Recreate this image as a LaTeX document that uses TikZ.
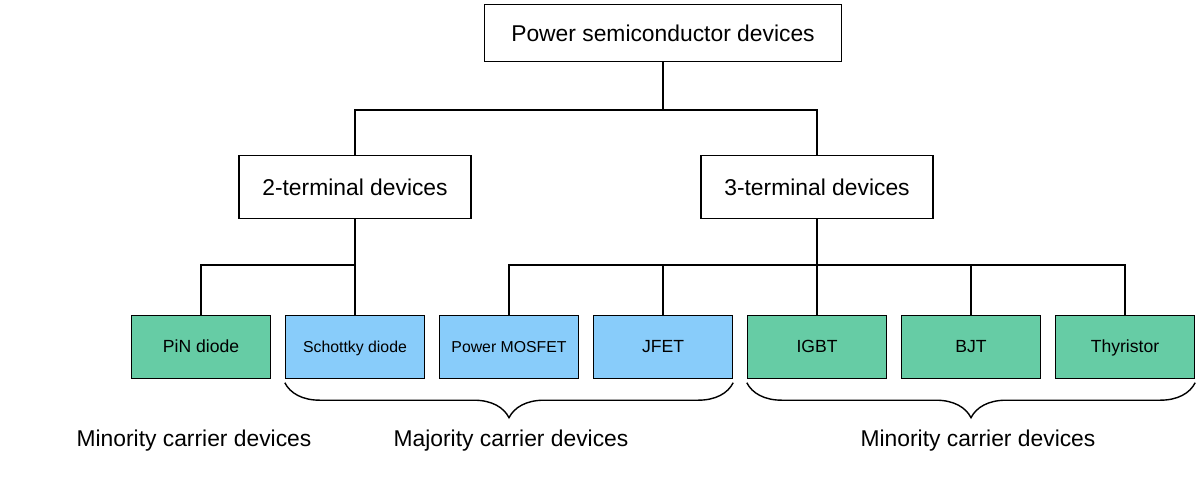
\documentclass[tikz,border=0pt]{standalone}
\usepackage{fontspec}
\setmainfont{Liberation Sans}
\usetikzlibrary{positioning,decorations.pathreplacing}
\definecolor{minority}{RGB}{102,204,165}
\definecolor{majority}{RGB}{136,204,250}
\tikzset{
  head/.style={draw, thick, minimum width=4.64cm, minimum height=1.26cm, font=\fontsize{13}{15}\selectfont},
  dev/.style={draw, thick, minimum width=2.78cm, minimum height=1.26cm, text height=1.5ex, text depth=0.3ex, font=\fontsize{10}{12}\selectfont},
  mino/.style={dev, fill=minority},
  majo/.style={dev, fill=majority},
  group/.style={font=\fontsize{13}{15}\selectfont},
  curly/.style={decorate, decoration={brace, mirror, amplitude=0.7cm}}
}
\begin{document}
\begin{tikzpicture}[x=0.02cm, y=-0.02cm, thick]
  \useasboundingbox (0,0) rectangle (1200,486);

  % Top level
  \node[head, minimum width=7.14cm, minimum height=1.14cm] (root) at (663,33) {Power semiconductor devices};
  \node[head] (two) at (355,187) {2-terminal devices};
  \node[head] (three) at (817,187) {3-terminal devices};

  % Devices
  \node[mino] (pin) at (201,347) {PiN diode};
  \node[majo, font=\fontsize{9}{11}\selectfont] (schottky) at (355,347) {Schottky diode};
  \node[majo, font=\fontsize{9}{11}\selectfont] (mosfet) at (509,347) {Power MOSFET};
  \node[majo] (jfet) at (663,347) {JFET};
  \node[mino] (igbt) at (817,347) {IGBT};
  \node[mino] (bjt) at (971,347) {BJT};
  \node[mino] (thy) at (1125,347) {Thyristor};

  % Tree connectors
  \coordinate (r) at (663,110);
  \draw (root.south) -- (r);
  \draw (two.north) |- (r) -| (three.north);

  \coordinate (t) at (355,265);
  \draw (two.south) -- (t);
  \draw (pin.north) |- (t) -- (schottky.north);

  \coordinate (h) at (817,265);
  \draw (three.south) -- (h);
  \draw (mosfet.north) |- (h) -| (thy.north);
  \foreach \n in {jfet, igbt, bjt}
    \draw (\n.north) -- (\n.north |- h);

  % Braces
  \draw[curly] ([yshift=-2pt]schottky.south west) -- ([yshift=-2pt]jfet.south east);
  \draw[curly] ([yshift=-2pt]igbt.south west) -- ([yshift=-2pt]thy.south east);

  % Group labels
  \node[group] (minl) at (194,441) {Minority carrier devices};
  \node[group] (maj) at (511,441) {Majority carrier devices};
  \node[group] (minr) at (978,441) {Minority carrier devices};
\end{tikzpicture}
\end{document}
